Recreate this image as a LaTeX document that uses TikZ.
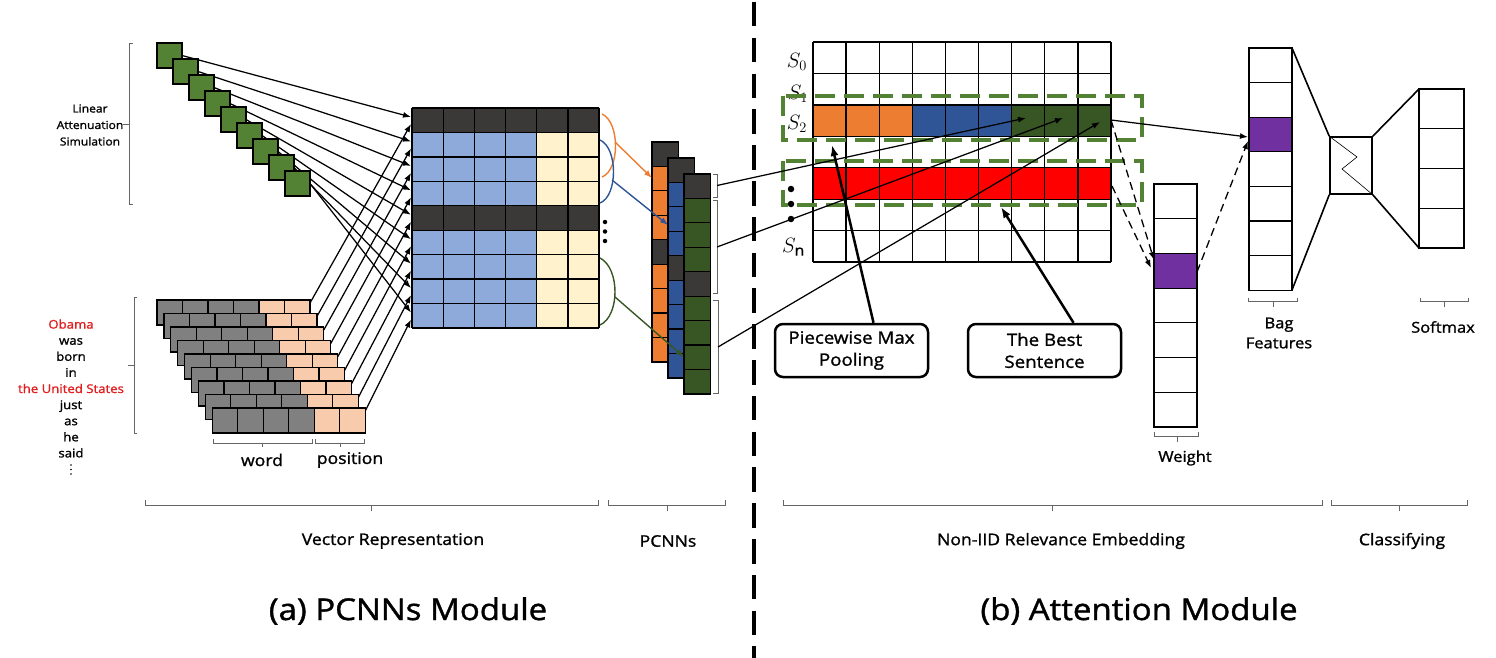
\documentclass[tikz,border=0pt]{standalone}
\usepackage{fontspec}
\setmainfont{Open Sans}[FakeStretch=1.1, FakeBold=1.3]
\usetikzlibrary{arrows.meta,backgrounds}
\definecolor{gsqc}{RGB}{84,130,53}
\definecolor{dk}{RGB}{59,56,56}
\definecolor{bluec}{RGB}{142,170,219}
\definecolor{yelc}{RGB}{255,242,204}
\definecolor{grayc}{RGB}{128,128,128}
\definecolor{peach}{RGB}{248,203,173}
\definecolor{orc}{RGB}{237,125,49}
\definecolor{bld}{RGB}{47,85,151}
\definecolor{grd}{RGB}{55,86,35}
\definecolor{redc}{RGB}{255,0,0}
\definecolor{purp}{RGB}{112,48,160}
\definecolor{boxg}{RGB}{84,130,53}
\definecolor{tred}{RGB}{226,30,30}
\begin{document}
\begin{tikzpicture}[x=1pt,y=-1pt,
  arr/.style={-{Latex[length=8pt,width=6pt]}, line width=1.25pt},
  cell/.style={draw=black, line width=1.2pt},
  gridl/.style={draw=black, line width=1.3pt},
  gsqs/.style={draw=black, line width=1.2pt, fill=gsqc, minimum size=25pt, inner sep=0pt, outer sep=0pt},
  brk/.style={draw=black!60, line width=0.8pt},
  lbl/.style={font=\fontsize{16}{19}\selectfont, inner sep=0pt},
  small/.style={font=\fontsize{12}{16.1}\selectfont, inner sep=0pt, align=center},
  title/.style={font=\fontsize{30}{36}\selectfont, inner sep=0pt},
  callout/.style={draw=black, line width=2.5pt, rounded corners=8pt, minimum width=153pt, minimum height=53pt, align=center, font=\fontsize{17}{22}\selectfont, inner sep=0pt},
  thickarr/.style={-{Latex[length=11pt,width=8pt]}, line width=2.5pt},
  gdash/.style={draw=boxg, line width=3.5pt, dash pattern=on 20pt off 9pt},
  dasharr/.style={-{Latex[length=8pt,width=6pt]}, line width=1.3pt, dash pattern=on 8pt off 5pt},
  dotn/.style={circle, fill=black, inner sep=0pt, minimum size=5pt},
  smath/.style={font=\fontsize{21}{24}\selectfont, inner sep=0pt}
]
\useasboundingbox (0,0) rectangle (1496,658);

% ---------- left texts and brackets ----------
\node[small, font=\fontsize{11}{16.5}\selectfont] (las) at (90,125) {Linear\\Attenuation\\Simulation};
\draw[brk] (133,43) -- (129,43) -- (129,204) -- (133,204);
\draw[brk] (129,124) -- (123,124);

\node[small] (words) at (71,388.5) {{\color{tred}Obama}\\was\\born\\in\\{\color{tred}the United States}\\just\\as\\he\\said};
\node[dotn, minimum size=1.8pt] (v1) at (71,465) {};
\node[dotn, minimum size=1.8pt] (v2) at (71,469.5) {};
\node[dotn, minimum size=1.8pt] (v3) at (71,474) {};
\draw[brk] (137,297) -- (134,297) -- (134,433) -- (137,433);
\draw[brk] (134,365) -- (128,365);

% ---------- green squares ----------
\foreach \i in {0,...,8}
  \node[gsqs] (g\i) at ({169.5+16*\i},{55.5+16*\i}) {};

% ---------- gray word rows ----------
\foreach \i in {0,...,8} {
  \pgfmathsetmacro\xo{157+6.9*\i}
  \pgfmathsetmacro\yo{300+13.5*\i}
  \foreach \k in {0,...,3}
    \filldraw[cell, fill=grayc] ({\xo+25.5*\k},\yo) rectangle ++(25.5,25);
  \foreach \k in {4,5}
    \filldraw[cell, fill=peach] ({\xo+25.5*\k},\yo) rectangle ++(25.5,25);
  \coordinate (w\i) at ({\xo+153},{\yo+3});
}
\draw[brk] (213,439) -- (213,443) -- (312,443) -- (312,439);
\draw[brk] (262,443) -- (262,447);
\draw[brk] (315,439) -- (315,443) -- (364,443) -- (364,439);
\draw[brk] (340,443) -- (340,447);
\node[lbl] (wordl) at (262,460) {word};
\node[lbl] (posl) at (350,460) {position};

% ---------- left matrix ----------
\fill[bluec] (412,108) rectangle (536.67,328);
\fill[yelc] (536.67,108) rectangle (599,328);
\fill[dk] (412,108) rectangle (599,132.44);
\fill[dk] (412,205.78) rectangle (599,230.22);
\foreach \k in {0,...,6} \draw[gridl] ({412+31.17*\k},108) -- ({412+31.17*\k},328);
\foreach \k in {0,...,9} \draw[gridl] (412,{108+24.44*\k}) -- (599,{108+24.44*\k});
\foreach \i in {0,...,8} {
  \coordinate (mg\i) at (411,{117+24.44*\i});
  \coordinate (mw\i) at (411,{124+24.44*\i});
}
\begin{pgfonlayer}{background}
\foreach \i in {0,...,8} {
  \draw[arr] (g\i.east) -- (mg\i);
  \draw[arr] (w\i) -- (mw\i);
}
\end{pgfonlayer}
\node[dotn, minimum size=4.5pt] (d1) at (605,222) {};
\node[dotn, minimum size=4.5pt] (d2) at (605,231.5) {};
\node[dotn, minimum size=4.5pt] (d3) at (605,241) {};

% arcs
\draw[orc, line width=1.4pt] (602,114) .. controls (620,122) and (620,170) .. (602,177);
\draw[bld, line width=1.4pt] (600,140) .. controls (618,148) and (618,196) .. (600,203);
\draw[grd, line width=1.4pt] (600,258) .. controls (620,268) and (620,316) .. (600,325);
\coordinate (oa) at (615,142);
\coordinate (ba) at (612,180);
\coordinate (ga) at (615,297);

% ---------- PCNN stacks ----------
\foreach \c/\xo/\yo in {orc/652/142, bld/668/158, grd/684/174} {
  \foreach \r in {0,...,8} {
    \pgfmathtruncatemacro\isdk{(\r==0)||(\r==4)}
    \ifnum\isdk=1
      \filldraw[cell, fill=dk] (\xo,{\yo+24.44*\r}) rectangle ++(26.5,24.44);
    \else
      \filldraw[cell, fill=\c] (\xo,{\yo+24.44*\r}) rectangle ++(26.5,24.44);
    \fi
  }
}
\coordinate (ot) at (652,178);
\coordinate (bt) at (668,225);
\coordinate (gt) at (684,357);
\draw[orc, line width=1.4pt, -{Latex[length=8pt,width=6pt]}] (oa) -- (ot);
\draw[bld, line width=1.4pt, -{Latex[length=8pt,width=6pt]}] (ba) -- (bt);
\draw[grd, line width=1.4pt, -{Latex[length=8pt,width=6pt]}] (ga) -- (gt);

% small brackets
\draw[brk] (713,174) -- (717,174) -- (717,197) -- (713,197);
\draw[brk] (713,200) -- (717,200) -- (717,293) -- (713,293);
\draw[brk] (713,300) -- (718,300) -- (718,393) -- (713,393);
\coordinate (b1) at (717,185.5);
\coordinate (b2) at (717,247);
\coordinate (b3) at (718,347);

% ---------- dashed separator ----------
\draw[line width=4pt, dash pattern=on 24.5pt off 11.3pt] (754,2) -- (754,658);

% ---------- right matrix ----------
\fill[orc] (813,104.86) rectangle (912.33,136.29);
\fill[bld] (912.33,104.86) rectangle (1011.67,136.29);
\fill[grd] (1011.67,104.86) rectangle (1111,136.29);
\fill[redc] (813,167.71) rectangle (1111,199.14);
\foreach \k in {0,...,9} \draw[gridl] ({813+33.111*\k},42) -- ({813+33.111*\k},262);
\foreach \k in {0,...,7} \draw[gridl] (813,{42+31.43*\k}) -- (1111,{42+31.43*\k});
\node[smath] (s0) at (797,62) {$S_0$};
\node[smath] (s1) at (798,94) {$S_1$};
\node[smath] (s2) at (797,124) {$S_2$};
\node[smath] (sn) at (793,247) {$S_{\mathrm{n}}$};
\node[dotn, minimum size=6.5pt] (e1) at (791,189) {};
\node[dotn, minimum size=6.5pt] (e2) at (791,204) {};
\node[dotn, minimum size=6.5pt] (e3) at (791,219) {};

\draw[gdash] (783,96) rectangle (1142,140);
\draw[gdash] (783,161) rectangle (1142,205);

\coordinate (t1) at (1026,118);
\coordinate (t2) at (1063,118);
\coordinate (t3) at (1100,122);
\draw[arr] (b1) -- (t1);
\draw[arr] (b2) -- (t2);
\draw[arr] (b3) -- (t3);

% ---------- callouts ----------
\node[callout] (pmp) at (851.5,350.5) {Piecewise Max\\Pooling};
\node[callout] (tbs) at (1044.5,350.5) {The Best\\Sentence};
\coordinate (pmpt) at (832,145);
\coordinate (tbst) at (1001,207);
\draw[thickarr] ([xshift=22pt]pmp.north) -- (pmpt);
\draw[thickarr] ([xshift=29pt]tbs.north) -- (tbst);

% ---------- weight column ----------
\foreach \r in {0,...,6} {
  \ifnum\r=2
    \filldraw[cell, fill=purp] (1154,{184+34.7*\r}) rectangle ++(43,34.7);
  \else
    \filldraw[cell, fill=white] (1154,{184+34.7*\r}) rectangle ++(43,34.7);
  \fi
}
\draw[brk] (1154,432) -- (1154,436) -- (1198,436) -- (1198,432);
\draw[brk] (1177,436) -- (1177,442);
\node[lbl, font=\fontsize{15}{18}\selectfont] (wl) at (1185,458) {Weight};

% ---------- bag features ----------
\foreach \r in {0,...,6} {
  \ifnum\r=2
    \filldraw[cell, fill=purp] (1249,{48+34.6*\r}) rectangle ++(43,34.6);
  \else
    \filldraw[cell, fill=white] (1249,{48+34.6*\r}) rectangle ++(43,34.6);
  \fi
}
\draw[brk] (1248,298) -- (1248,301) -- (1297,301) -- (1297,298);
\draw[brk] (1273,301) -- (1273,307);
\node[small, font=\fontsize{15}{20}\selectfont] (bagl) at (1279,333) {Bag\\Features};

% ---------- middle box and softmax ----------
\node[draw=black, line width=1.5pt, minimum width=42pt, minimum height=57pt, inner sep=0pt] (mid) at (1351,165.5) {};
\draw[line width=1.6pt] (1292,48) -- (mid.north west);
\draw[line width=1.6pt] (1292,290) -- (mid.south west);
\draw[line width=0.6pt] (mid.north west) -- (1357,157) -- (1342,169) -- (mid.south east);
\foreach \r in {0,...,3}
  \filldraw[cell, fill=white] (1419,{89+39.75*\r}) rectangle ++(45,39.75);
\draw[line width=1.6pt] (mid.north east) -- (1419,89);
\draw[line width=1.6pt] (mid.south east) -- (1419,248);
\draw[brk] (1420,298) -- (1420,301) -- (1468,301) -- (1468,298);
\draw[brk] (1444,301) -- (1444,307);
\node[lbl, font=\fontsize{15}{18}\selectfont] (sml) at (1443,327) {Softmax};

% ---------- attention arrows ----------
\coordinate (s2e) at (1111,120);
\coordinate (rede) at (1112,186);
\coordinate (bagp) at (1248,137);
\coordinate (bagq) at (1248,141);
\coordinate (wp1) at (1154,260);
\coordinate (wp2) at (1151,268);
\coordinate (wpr) at (1197,272);
\draw[arr] (s2e) -- (bagp);
\draw[dasharr] (s2e) -- (wp1);
\draw[dasharr] (rede) -- (wp2);
\draw[dasharr] (wpr) -- (bagq);

% ---------- bottom brackets and labels ----------
\draw[brk] (145,500) -- (145,505) -- (598,505) -- (598,500);
\draw[brk] (371,505) -- (371,511);
\draw[brk] (608,500) -- (608,505) -- (725,505) -- (725,500);
\draw[brk] (667,505) -- (667,511);
\draw[brk] (783,500) -- (783,505) -- (1322,505) -- (1322,500);
\draw[brk] (1052,505) -- (1052,511);
\draw[brk] (1331,500) -- (1331,505) -- (1467,505) -- (1467,500);
\draw[brk] (1399,505) -- (1399,511);
\node[lbl] (vr) at (393,541) {Vector Representation};
\node[lbl] (pc) at (668,541) {PCNNs};
\node[lbl] (ni) at (1061,541) {Non-IID Relevance Embedding};
\node[lbl] (cl) at (1402,541) {Classifying};
\node[title] (ta) at (408,611) {(a) PCNNs Module};
\node[title] (tb) at (1139,611) {(b) Attention Module};
\end{tikzpicture}
\end{document}
